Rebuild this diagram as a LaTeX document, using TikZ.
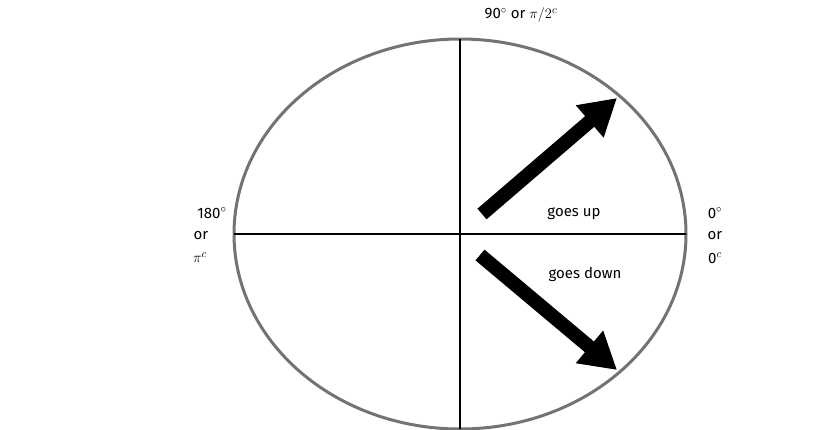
\documentclass[tikz,border=0pt]{standalone}
\usepackage{fontspec}
\setmainfont{Fira Sans}
\usetikzlibrary{arrows.meta}
\begin{document}
\begin{tikzpicture}[x=1pt,y=-1pt,
  lbl/.style={font=\fontsize{15}{17}\selectfont, inner sep=1pt},
  axis/.style={black, line width=2pt},
  bigarrow/.style={line width=14pt, -{Triangle[length=36pt,width=40pt]}}]
\useasboundingbox (0,0) rectangle (818,429);
\draw[gray!90!black, line width=3pt] (460,234) ellipse [x radius=226, y radius=195];
\coordinate (top) at (460,39); \coordinate (bot) at (460,429);
\coordinate (lft) at (234,234); \coordinate (rgt) at (686,234);
\draw[axis] (top) -- (bot);
\draw[axis] (lft) -- (rgt);
\coordinate (u0) at (482,214); \coordinate (u1) at (617,98);
\coordinate (d0) at (480,255); \coordinate (d1) at (617,370);
\draw[bigarrow] (u0) -- (u1);
\draw[bigarrow] (d0) -- (d1);
\node[lbl] (n90) at (521,15) {90$^\circ$ or $\pi/2^c$};
\node[lbl] (n180) at (212,213) {180$^\circ$};
\node[lbl] (nor1) at (201,236) {or};
\node[lbl] (npi) at (200,258) {$\pi^c$};
\node[lbl] (n0) at (715,213) {0$^\circ$};
\node[lbl] (nor2) at (715,236) {or};
\node[lbl] (n0c) at (715,258) {0$^c$};
\node[lbl] (up) at (574,214) {goes up};
\node[lbl] (down) at (585,274) {goes down};
\end{tikzpicture}
\end{document}
